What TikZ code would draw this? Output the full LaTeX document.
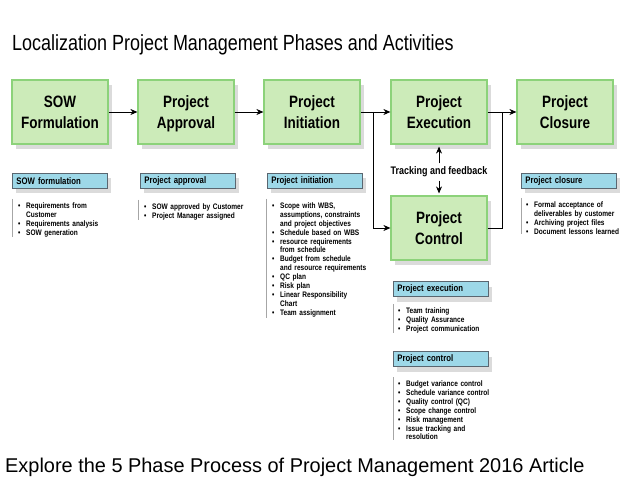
\documentclass[tikz,border=0pt]{standalone}
\usepackage{fontspec}
\setmainfont{Liberation Sans}
\newfontfamily\condfont[FakeStretch=0.82]{Liberation Sans}
\usetikzlibrary{arrows.meta,shadows}

\definecolor{phasegreen}{HTML}{CCEBB9}
\definecolor{phaseborder}{HTML}{8CD27A}
\definecolor{labelblue}{HTML}{9DD8E8}
\definecolor{labelborder}{HTML}{5A6670}

\newcommand{\itm}[1]{\par\hangindent=8bp\hangafter=1\noindent\makebox[8bp][l]{\textbullet}#1}

\begin{document}
\begin{tikzpicture}[x=1bp, y=-1bp,
    phase/.style={draw=phaseborder, line width=1.2bp, fill=phasegreen,
        minimum width=96bp, minimum height=64bp, align=center, inner sep=0pt,
        text depth=0pt, font=\condfont\bfseries\fontsize{16.5}{21}\selectfont,
        drop shadow={shadow xshift=4bp, shadow yshift=-5bp, opacity=0.28}},
    stage/.style={draw=labelborder, line width=0.8bp, fill=labelblue,
        minimum width=95bp, minimum height=15bp, text width=87bp, inner xsep=4bp,
        inner ysep=0pt, anchor=west, align=left,
        font=\condfont\bfseries\fontsize{9.5}{10}\selectfont,
        drop shadow={shadow xshift=4bp, shadow yshift=-5bp, opacity=0.28}},
    items/.style={anchor=north west, inner sep=0pt, text width=115bp, align=left,
        font=\condfont\bfseries\fontsize{8}{9}\selectfont},
    listline/.style={draw=gray!70, line width=0.6bp},
    arr/.style={-{Stealth[length=7bp,width=6bp]}, line width=0.7bp}]

    \fill[white] (0,0) rectangle (640,480);
    \useasboundingbox (0,0) rectangle (640,480);

    % Title
    \node[anchor=base west, inner sep=0pt, font=\condfont\fontsize{22}{22}\selectfont] (title) at (12,51)
        {Localization Project Management Phases and Activities};

    % Phases
    \foreach \nm/\x/\y/\txt in {sow/60/112/{SOW\\Formulation}, appr/186/112/{Project\\Approval},
        init/312/112/{Project\\Initiation}, exec/439/112/{Project\\Execution},
        clos/565/112/{Project\\Closure}, ctrl/439/228/{Project\\Control}} {
        \node[phase] (\nm) at (\x,\y) {\txt};
    }

    % Connectors
    \draw[arr] (sow) -- (appr);
    \draw[arr] (appr) -- (init);
    \draw[arr] (init) -- (exec);
    \coordinate (split) at (373,112);
    \draw[arr] (split) |- (ctrl.west);
    \coordinate (join) at (502,112);
    \draw[line width=0.7bp] (ctrl.east) -| (join);
    \draw[arr] (exec) -- (clos);

    % Tracking and feedback
    \node[font=\condfont\bfseries\fontsize{11}{12}\selectfont] (track) at (439,172) {Tracking and feedback};
    \draw[arr, shorten >=2bp] (track) -- (exec);
    \draw[arr, shorten >=2bp] (track) -- (ctrl);

    % Activity labels
    \foreach \nm/\x/\y/\txt in {labsow/12/181/SOW formulation, labappr/140/181/Project approval,
        labinit/267/181/Project initiation, labclos/521/181/Project closure,
        labexec/393/289/Project execution, labctrl/393/359/Project control} {
        \node[stage] (\nm) at (\x,\y) {\txt};
    }

    % Activity lists
    \node[items] (lstsow) at (18,199) {\itm{Requirements from\newline Customer}
        \itm{Requirements analysis}\itm{SOW generation}\par};
    \node[items] (lstappr) at (144,200) {\itm{SOW approved by Customer}
        \itm{Project Manager assigned}\par};
    \node[items] (lstinit) at (272,199) {\itm{Scope with WBS,\newline assumptions, constraints\newline and project objectives}
        \itm{Schedule based on WBS}\itm{resource requirements\newline from schedule}
        \itm{Budget from schedule\newline and resource requirements}
        \itm{QC plan}\itm{Risk plan}\itm{Linear Responsibility\newline Chart}\itm{Team assignment}\par};
    \node[items] (lstclos) at (526,198) {\itm{Formal acceptance of\newline deliverables by customer}
        \itm{Archiving project files}\itm{Document lessons learned}\par};
    \node[items] (lstexec) at (398,304) {\itm{Team training}\itm{Quality Assurance}
        \itm{Project communication}\par};
    \node[items] (lstctrl) at (398,377) {\itm{Budget variance control}\itm{Schedule variance control}
        \itm{Quality control (QC)}\itm{Scope change control}\itm{Risk management}
        \itm{Issue tracking and\newline resolution}\par};
    \foreach \lst/\dx in {lstsow/6, lstappr/6, lstinit/6, lstclos/5, lstexec/5, lstctrl/5} {
        \draw[listline] ([xshift=-\dx bp]\lst.north west) -- ([xshift=-\dx bp]\lst.south west);
    }

    % Caption
    \node[anchor=base west, inner sep=0pt, font=\fontsize{20}{20}\selectfont] (caption) at (5,472)
        {Explore the 5 Phase Process of Project Management 2016 Article};
\end{tikzpicture}
\end{document}
